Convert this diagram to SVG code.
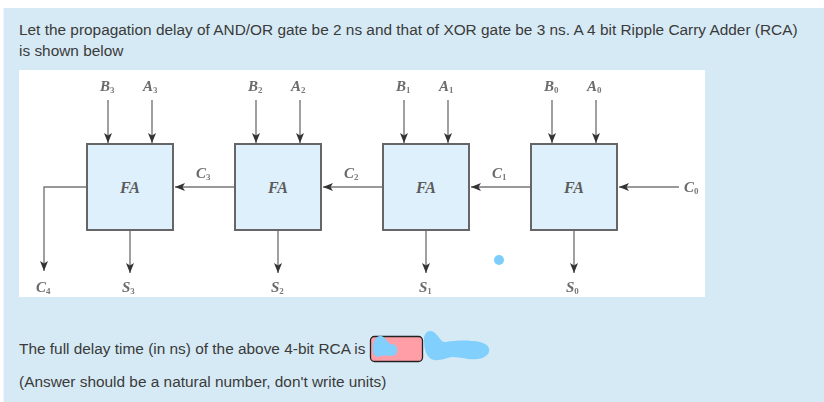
<svg xmlns="http://www.w3.org/2000/svg" width="824" height="402" viewBox="0 0 824 402">
<style>
.q{font:15.4px "Liberation Sans",Arial,sans-serif;fill:#3a3a3a}
.l{font:italic bold 15px "Liberation Serif","Times New Roman",serif;fill:#6b6b6b}
.s{font:bold 9px "Liberation Serif","Times New Roman",serif;fill:#7a7a7a}
.fa{font:italic bold 16px "Liberation Serif","Times New Roman",serif;fill:#5c5c5c;text-anchor:middle}
.box{fill:#def0fb;stroke:#666;stroke-width:2}
.w{fill:none;stroke:#777;stroke-width:1.400}
</style>
<defs>
<marker id="a" markerUnits="userSpaceOnUse" markerWidth="11" markerHeight="10" refX="10" refY="5" orient="auto"><path d="M0 1L10 5L0 9L2.500 5Z" fill="#333"/></marker>
<filter id="b" x="-5%" y="-5%" width="110%" height="110%"><feGaussianBlur stdDeviation="0.350"/></filter>
</defs>
<rect width="824" height="402" fill="#fff"/>
<rect x="3.500" y="8" width="820.500" height="394" fill="#d6eaf5"/>
<text class="q" x="19" y="34.500">Let the propagation delay of AND/OR gate be 2 ns and that of XOR gate be 3 ns. A 4 bit Ripple Carry Adder (RCA)</text>
<text class="q" x="19" y="56">is shown below</text>
<rect x="19" y="70" width="686" height="227" fill="#fff"/>
<g id="connectors" class="w">
<path marker-end="url(#a)" d="M108 100V143"/><path marker-end="url(#a)" d="M152 100V143"/>
<path marker-end="url(#a)" d="M256 100V143"/><path marker-end="url(#a)" d="M300 100V143"/>
<path marker-end="url(#a)" d="M404 100V143"/><path marker-end="url(#a)" d="M448 100V143"/>
<path marker-end="url(#a)" d="M552 100V143"/><path marker-end="url(#a)" d="M596 100V143"/>
<path marker-end="url(#a)" d="M87 187H44V271"/>
<path marker-end="url(#a)" d="M235 187H175"/><path marker-end="url(#a)" d="M383 187H323"/><path marker-end="url(#a)" d="M531 187H471"/><path marker-end="url(#a)" d="M679 187H619"/>
<path marker-end="url(#a)" d="M130 230V273"/><path marker-end="url(#a)" d="M278 230V273"/><path marker-end="url(#a)" d="M426 230V273"/><path marker-end="url(#a)" d="M574 230V273"/>
</g>
<g id="fa3"><rect class="box" x="87" y="144" width="86" height="86"/><text class="fa" x="130" y="193">FA</text></g>
<g id="fa2"><rect class="box" x="235" y="144" width="86" height="86"/><text class="fa" x="278" y="193">FA</text></g>
<g id="fa1"><rect class="box" x="383" y="144" width="86" height="86"/><text class="fa" x="426" y="193">FA</text></g>
<g id="fa0"><rect class="box" x="531" y="144" width="86" height="86"/><text class="fa" x="574" y="193">FA</text></g>
<g id="labels" filter="url(#b)">
<text class="l" x="100" y="91">B<tspan class="s" dy="2">3</tspan></text><text class="l" x="143" y="91">A<tspan class="s" dy="2">3</tspan></text>
<text class="l" x="248" y="91">B<tspan class="s" dy="2">2</tspan></text><text class="l" x="291" y="91">A<tspan class="s" dy="2">2</tspan></text>
<text class="l" x="396" y="91">B<tspan class="s" dy="2">1</tspan></text><text class="l" x="439" y="91">A<tspan class="s" dy="2">1</tspan></text>
<text class="l" x="544" y="91">B<tspan class="s" dy="2">0</tspan></text><text class="l" x="587" y="91">A<tspan class="s" dy="2">0</tspan></text>
<text class="l" x="196" y="178">C<tspan class="s" dy="2">3</tspan></text><text class="l" x="344" y="178">C<tspan class="s" dy="2">2</tspan></text><text class="l" x="492" y="178">C<tspan class="s" dy="2">1</tspan></text>
<text class="l" x="684" y="192">C<tspan class="s" dy="2">0</tspan></text>
<text class="l" x="36" y="292">C<tspan class="s" dy="2">4</tspan></text><text class="l" x="122" y="292">S<tspan class="s" dy="2">3</tspan></text><text class="l" x="271" y="292">S<tspan class="s" dy="2">2</tspan></text><text class="l" x="419" y="292">S<tspan class="s" dy="2">1</tspan></text><text class="l" x="566" y="292">S<tspan class="s" dy="2">0</tspan></text>
</g>
<circle cx="499" cy="260" r="5" fill="#7dcdfb"/>
<text class="q" x="19" y="354">The full delay time (in ns) of the above 4-bit RCA is</text>
<rect x="370.500" y="336.500" width="52" height="25" rx="4" fill="#ff9ea6" stroke="#222" stroke-width="1.300"/>
<path d="M373 350C372 342 376 335 381 336C386 337 387 343 391 344C397 344 399 350 396 354C392 358 384 354 381 356C377 358 373 356 373 350Z" fill="#80cffd"/>
<path d="M424 340C424 331 430 329 435 333C440 337 441 343 446 342C456 340 470 340 480 342C489 344 491 350 488 354C484 359 475 360 468 359C463 358 458 357 452 357C446 358 440 361 434 360C427 359 424 350 424 340Z" fill="#80cffd"/>
<text class="q" x="19" y="387">(Answer should be a natural number, don't write units)</text>
</svg>
